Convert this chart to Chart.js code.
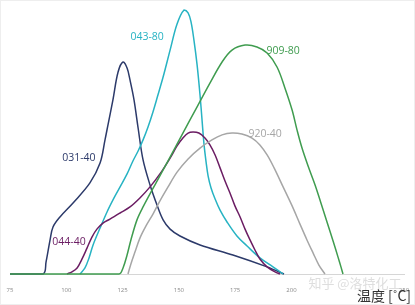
<!DOCTYPE html>
<html>
<head>
<meta charset="utf-8">
<script src="https://cdn.jsdelivr.net/npm/chart.js@4.4.0/dist/chart.umd.min.js"></script>
<style>
  html, body { margin: 0; padding: 0; background: #fff; }
  #wrap { position: relative; width: 415px; height: 305px; }
</style>
</head>
<body>
<div id="wrap"><canvas id="dsc-chart" width="415" height="305"></canvas></div>
<script>
// temperature (°C) and relative heat flow
const t031 = [75, 89.7, 91.0, 92.8, 94.1, 97.2, 103.0, 110.5, 115.0, 117.2, 118.5, 120.7, 123.0, 125.2, 127.0, 128.3, 130.1, 131.9, 134.1, 137.2, 140.3, 143.0, 146.1, 150.5, 159.4, 174.0, 189.2, 196.7];
const v031 = [0, 0, 4.5, 12.9, 17.8, 21.6, 26.9, 34.5, 42.0, 50.8, 56.4, 65.9, 76.5, 80.3, 78.0, 73.5, 65.9, 55.3, 43.2, 33.7, 26.1, 20.5, 17.0, 14.4, 11.0, 7.2, 2.7, 0];

const t043 = [106.1, 108.3, 110.1, 111.9, 115.0, 118.1, 121.2, 123.9, 127.0, 129.6, 131.9, 134.1, 136.3, 138.5, 140.7, 143.0, 146.1, 149.2, 152.3, 154.1, 155.4, 156.7, 158.1, 159.4, 160.3, 161.2, 162.1, 163.0, 164.3, 166.1, 168.3, 171.4, 175.8, 180.3, 186.0, 191.8, 196.3];
const v043 = [0, 2.3, 6.1, 11.0, 17.4, 23.5, 28.8, 33.0, 37.9, 42.8, 46.6, 50.8, 55.7, 61.4, 67.8, 74.6, 84.8, 94.7, 100.0, 98.9, 95.5, 88.6, 79.2, 67.8, 58.3, 48.9, 42.4, 37.1, 32.6, 28.4, 24.2, 19.7, 14.4, 10.6, 6.1, 2.7, 0];

const t909 = [75, 123.4, 125.2, 127.0, 128.7, 131.4, 134.1, 140.3, 146.1, 151.8, 158.1, 163.8, 169.2, 173.6, 179.4, 184.7, 189.2, 193.6, 197.1, 200.3, 202.5, 204.7, 207.4, 210.5, 213.1, 215.8, 218.5, 220.7, 222.0, 222.9];
const v909 = [0, 0, 2.3, 7.2, 12.9, 20.5, 25.4, 35.2, 44.3, 53.4, 63.3, 72.3, 80.3, 84.8, 86.7, 86.0, 83.7, 78.4, 70.5, 62.1, 54.5, 47.7, 40.9, 33.7, 26.9, 19.7, 12.5, 6.4, 2.7, 0];

const t920 = [127.4, 128.7, 130.5, 132.7, 135.4, 138.5, 141.6, 145.2, 149.2, 154.1, 159.4, 164.7, 169.2, 173.6, 178.0, 182.5, 186.0, 189.2, 192.3, 196.3, 200.3, 203.8, 206.9, 209.6, 212.2, 214.9];
const v920 = [0, 3.8, 8.3, 13.6, 18.2, 22.7, 27.7, 33.0, 38.6, 43.6, 47.7, 50.8, 52.7, 53.4, 53.0, 51.5, 48.9, 45.1, 40.2, 33.0, 25.8, 18.9, 12.9, 8.0, 3.4, 0];

const t044 = [100.3, 102.5, 104.8, 107.0, 109.2, 111.4, 113.6, 116.3, 119.4, 123.9, 128.3, 132.7, 137.2, 141.6, 146.1, 149.2, 151.8, 154.1, 156.3, 158.9, 161.6, 163.8, 166.1, 168.3, 170.5, 172.7, 174.9, 177.2, 179.4, 181.6, 183.8, 186.0, 189.2, 192.7, 194.9];
const v044 = [0, 0.8, 2.3, 5.7, 9.8, 14.0, 17.0, 19.3, 20.8, 23.1, 25.4, 28.8, 33.0, 37.9, 43.9, 48.5, 51.5, 53.4, 53.8, 53.4, 51.5, 48.9, 45.1, 40.2, 35.2, 30.7, 25.8, 21.6, 17.0, 12.9, 9.1, 5.7, 2.7, 0.8, 0];

const xTickLabels = [75, 100, 125, 150, 175, 200, 250];

const toPoints = (xs, ys) => xs.map((x, i) => ({ x: x, y: ys[i] }));

const series = [
    { name: '909-80', t: t909, v: v909, color: '#3f9c4f', at: [196.3, 84.5] },
    { name: '920-40', t: t920, v: v920, color: '#a6a6a6', at: [188.3, 53.0] },
    { name: '044-40', t: t044, v: v044, color: '#6b1d63', at: [101.2, 12.1] },
    { name: '043-80', t: t043, v: v043, color: '#27b3c3', at: [135.9, 89.8] },
    { name: '031-40', t: t031, v: v031, color: '#2c3a6a', at: [105.6, 43.9] },
];

// curve names, the watermark and the axis title
const textPlugin = {
    id: 'texts',
    afterDraw(chart) {
        const ctx = chart.ctx;
        const xs = chart.scales.x, ys = chart.scales.y;
        ctx.save();
        ctx.textAlign = 'center';
        ctx.textBaseline = 'middle';
        ctx.font = '10.5px "Open Sans"';
        series.forEach(s => {
            ctx.fillStyle = s.color;
            ctx.fillText(s.name, xs.getPixelForValue(s.at[0]), ys.getPixelForValue(s.at[1]));
        });
        ctx.font = '13px "Noto Sans CJK SC"';
        ctx.fillStyle = 'rgba(200,200,200,0.6)';
        ctx.fillText('知乎 @洛特化工', 355, 283);
        ctx.fillStyle = '#333';
        ctx.font = '14px "Noto Sans CJK SC"';
        ctx.fillText('温度 [˚C]', 384, 296);
        ctx.strokeStyle = '#eeeeee';
        ctx.lineWidth = 1;
        ctx.strokeRect(0.5, 0.5, 414, 304);
        ctx.restore();
    }
};

new Chart(document.getElementById('dsc-chart').getContext('2d'), {
    type: 'line',
    data: {
        datasets: series.map(s => ({
            label: s.name,
            data: toPoints(s.t, s.v),
            borderColor: s.color,
            borderWidth: 1.5,
            pointRadius: 0,
            fill: false,
            tension: 0.35,
            clip: false,
        })),
    },
    options: {
        responsive: false,
        animation: false,
        layout: { padding: { left: 10, right: 11, top: 10, bottom: 0 } },
        plugins: { legend: { display: false }, tooltip: { enabled: false } },
        scales: {
            x: {
                type: 'linear',
                min: 75,
                max: 250,
                grid: { display: false },
                border: { display: true, color: '#d6d6d6', width: 1 },
                afterBuildTicks: scale => { scale.ticks = xTickLabels.map(v => ({ value: v })); },
                afterFit: scale => { scale.height = 31; },
                ticks: {
                    autoSkip: false,
                    maxRotation: 0,
                    padding: 5,
                    color: '#8a8a8a',
                    font: { size: 6, family: 'Open Sans' },
                },
            },
            y: {
                display: false,
                min: 0,
                max: 100,
            },
        },
    },
    plugins: [textPlugin],
});
</script>
</body>
</html>
